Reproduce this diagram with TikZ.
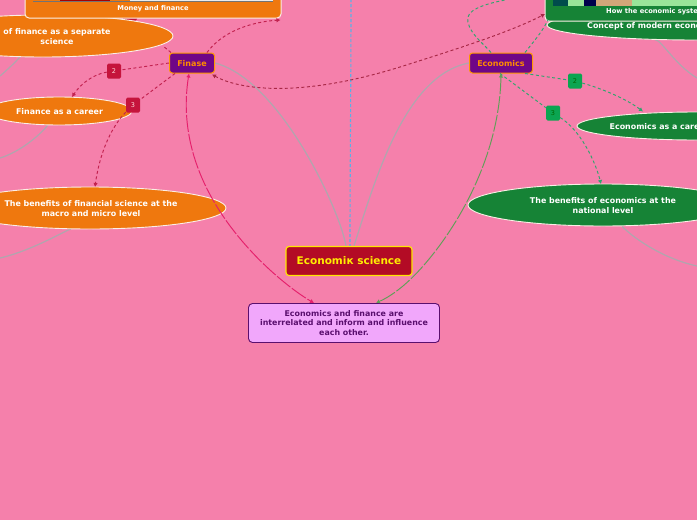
\documentclass[tikz,border=0pt]{standalone}
\usepackage{fontspec}
\setmainfont{DejaVu Sans}
\usetikzlibrary{shapes.geometric,arrows.meta}
\pgfdeclarelayer{back}
\pgfsetlayers{back,main}
\definecolor{bgpink}{HTML}{F580AB}
\definecolor{orangeb}{HTML}{EF780E}
\definecolor{greenb}{HTML}{168336}
\definecolor{purpleb}{HTML}{6F0687}
\definecolor{crimson}{HTML}{B30B25}
\definecolor{redbadge}{HTML}{C5143C}
\definecolor{greenbadge}{HTML}{0BA551}
\definecolor{lilac}{HTML}{F1A7FB}
\definecolor{darkpurple}{HTML}{5A0F6E}
\definecolor{linegrey}{HTML}{B0A6AE}
\definecolor{redlink}{HTML}{C2224F}
\definecolor{darkred}{HTML}{A82846}
\definecolor{greenlink}{HTML}{2FA56E}
\definecolor{hotpink}{HTML}{E5206C}
\definecolor{leaf}{HTML}{5F9F57}
\definecolor{skylink}{HTML}{5AB0E6}
\definecolor{ovalline}{HTML}{FBEFE6}
\tikzset{
 oval/.style={ellipse,draw=ovalline,line width=0.9pt,inner sep=0pt},
 lbl/.style={text=white,align=center,font=\fontsize{7.9}{10}\selectfont\bfseries,inner sep=0pt},
 sub/.style={rounded corners=3pt,draw=orange!80!yellow,line width=1pt,fill=purpleb,text=orange!90!yellow,font=\fontsize{8}{9}\selectfont\bfseries,inner sep=0pt,text depth=0pt},
 badge/.style={rounded corners=1.5pt,minimum width=14pt,minimum height=15pt,inner sep=0pt,font=\fontsize{6.5}{7}\selectfont},
 redb/.style={badge,fill=redbadge,text=white!85!red},
 greenbb/.style={badge,fill=greenbadge,text=black!60!green},
 rlink/.style={draw=redlink,dash pattern=on 3pt off 2.5pt,line width=0.95pt},
 glink/.style={draw=greenlink,dash pattern=on 3pt off 2.5pt,line width=0.95pt},
 tipr/.style={-{Latex[length=4pt,width=4.5pt]}},
 both/.style={{Latex[length=4pt,width=4.5pt]}-{Latex[length=4pt,width=4.5pt]}},
 grey/.style={draw=linegrey,line width=1.2pt},
 longl/.style={line width=0.95pt,dash pattern=on 17pt off 2pt},
}
\begin{document}
\begin{tikzpicture}[x=1pt,y=-1pt]
\useasboundingbox (0,0) rectangle (697,520);
\clip (0,0) rectangle (697,520);

\coordinate (gl1) at (0,158);
\coordinate (gl2) at (0,258);
\coordinate (gl3) at (0,76);
\coordinate (gr1) at (697,266);
\coordinate (gr2) at (697,78);
\coordinate (top) at (351,0);
\coordinate (skyfoot) at (350,247);
\coordinate (loopend) at (505,0);
\coordinate (careertip) at (72,97);
\coordinate (benefstip) at (95,187);
\coordinate (septip) at (163,46);
\coordinate (moneytip) at (280.5,20);
\coordinate (howtip) at (545,14);
\coordinate (howlow) at (548,20);
\coordinate (ecareertip) at (643,111.5);
\coordinate (ebeneftip) at (601,184);
\coordinate (notel) at (314,303);
\coordinate (noter) at (376,303);

\node[redb,minimum height=15pt] (b1) at (130,13) {};

% ovals
\node[oval,fill=orangeb,minimum width=260pt,minimum height=42pt] (sep) at (43,36) {};
\node[oval,fill=orangeb,minimum width=146pt,minimum height=28pt] (career) at (59,111) {};
\node[oval,fill=orangeb,minimum width=272pt,minimum height=42pt] (benef) at (90,208) {};
\node[oval,fill=greenb,minimum width=300pt,minimum height=30pt] (modern) at (697,25) {};
\node[oval,fill=greenb,minimum width=240pt,minimum height=28pt] (ecareer) at (697,126) {};
\node[oval,fill=greenb,minimum width=270pt,minimum height=42pt] (ebenef) at (603,205) {};

% image cards
\node[draw=ovalline,line width=1pt,fill=orangeb,rounded corners=4pt,minimum width=256pt,minimum height=40pt,inner sep=0pt] (money) at (153,-2) {};
\node[draw=ovalline,line width=1pt,fill=greenb,rounded corners=4pt,minimum width=300pt,minimum height=42pt,inner sep=0pt] (how) at (695,0) {};

% image strips
\fill[black!55!white] (33,1) rectangle (273,2.4);
\fill[white!85!gray] (130,0) rectangle (273,1.2);
\fill[red!65!black] (60,0) rectangle (110,1.4);
\fill[green!60!gray!50!white] (553,0) rectangle (697,6);
\fill[teal!60!black] (553,0) rectangle (568,6);
\fill[black!70!blue] (584,0) rectangle (596,6);
\fill[brown!70!white] (596,0) rectangle (632,6);

% central nodes
\node[sub,minimum width=45pt,minimum height=20pt] (fin) at (192,63) {Finase};
\node[sub,minimum width=63pt,minimum height=20pt] (eco) at (501,63) {Economics};
\node[draw=yellow!90!orange,line width=1.2pt,fill=crimson,rounded corners=3pt,minimum width=126pt,minimum height=29pt,inner sep=0pt,text=yellow!95!orange,font=\fontsize{10.5}{12}\selectfont\bfseries] (main) at (349,261) {Economiк science};
\node[draw=darkpurple,line width=0.9pt,fill=lilac,rounded corners=4pt,minimum width=191pt,minimum height=39pt,inner sep=0pt,text=darkpurple,align=center,font=\fontsize{7.9}{9.6}\selectfont\bfseries] (note) at (344,323) {Economics and finance are\\interrelated and inform and influence\\each other.};

\node[redb] (b2) at (114,71) {2};
\node[redb] (b3) at (133,105) {3};
\node[greenbb] (g2) at (575,81) {2};
\node[greenbb] (g3) at (553,113) {3};

% texts on ovals and cards
\node[lbl] (tsep) at (57,37) {of finance as a separate\\science};
\node[lbl] (tcar) at (59.5,112) {Finance as a career};
\node[lbl] (tben) at (91,208.5) {The benefits of financial science at the\\macro and micro level};
\node[lbl,anchor=west] (tmod) at (587,26.5) {Concept of modern economics};
\node[lbl,anchor=west] (teca) at (609.5,126.5) {Economics as a career};
\node[lbl] (tebe) at (603,205.5) {The benefits of economics at the\\national level};
\node[lbl,font=\fontsize{6.7}{8}\selectfont\bfseries] (tmon) at (153,9) {Money and finance};
\node[lbl,anchor=west,font=\fontsize{6.7}{8}\selectfont\bfseries] (thow) at (606,12) {How the economic system works};

% grey branch lines, under everything
\begin{pgfonlayer}{back}
\fill[bgpink] (0,0) rectangle (697,520);
\draw[grey] (main.north) ++(-3,0) .. controls (340,210) and (280,80) .. (fin.east);
\draw[grey] (main.north) ++(5,0) .. controls (375,180) and (405,75) .. (eco.west);
\draw[grey] (career) .. controls (40,135) and (20,152) .. (gl1);
\draw[grey] (benef) .. controls (75,225) and (35,250) .. (gl2);
\draw[grey] (sep) .. controls (25,52) and (12,66) .. (gl3);
\draw[grey] (ebenef) .. controls (630,235) and (660,258) .. (gr1);
\draw[grey] (modern) .. controls (660,38) and (675,65) .. (gr2);
\draw[skylink,line width=1.1pt,dash pattern=on 3pt off 2pt] (skyfoot) .. controls (350,170) and (351,80) .. (top);
\end{pgfonlayer}

% red dashed links
\draw[rlink] (fin.west) -- (b2);
\draw[rlink,tipr] (b2) .. controls (95,74) and (82,82) .. (careertip);
\draw[rlink] (fin.south west) ++(6,0) -- (b3);
\draw[rlink,tipr] (b3) .. controls (113,125) and (100,150) .. (benefstip);
\draw[rlink] (fin.north west) ++(2,0) -- (septip);
\draw[rlink,tipr] (fin.north) ++(15,0) .. controls (222,32) and (250,22) .. (moneytip);
\draw[darkred,dash pattern=on 3pt off 2.5pt,line width=0.95pt,both] (fin.south east) ++(-3,1) .. controls (240,90) and (300,98) .. (400,67) .. controls (460,48) and (510,32) .. (howtip);

% green dashed links
\draw[glink] (eco.south east) ++(-8,0) -- (g2);
\draw[glink,tipr] (g2) .. controls (600,88) and (625,98) .. (ecareertip);
\draw[glink] (eco.south) ++(-1,0) -- (g3);
\draw[glink,tipr] (g3) .. controls (580,130) and (595,160) .. (ebeneftip);
\draw[glink] (eco.north east) ++(-8,0) .. controls (535,40) and (542,32) .. (howlow);
\draw[glink] (eco.north) ++(-10,0) .. controls (485,45) and (465,30) .. (468,17) .. controls (470,8) and (490,3) .. (loopend);

% long curved connections to the note
\draw[hotpink,longl,both] (fin.south) ++(-3,0) .. controls (180,130) and (195,190) .. (250,250) .. controls (270,272) and (295,292) .. (notel);
\draw[leaf,longl,both] (eco.south) .. controls (500,130) and (480,190) .. (440,245) .. controls (420,272) and (400,292) .. (noter);
\end{tikzpicture}
\end{document}
